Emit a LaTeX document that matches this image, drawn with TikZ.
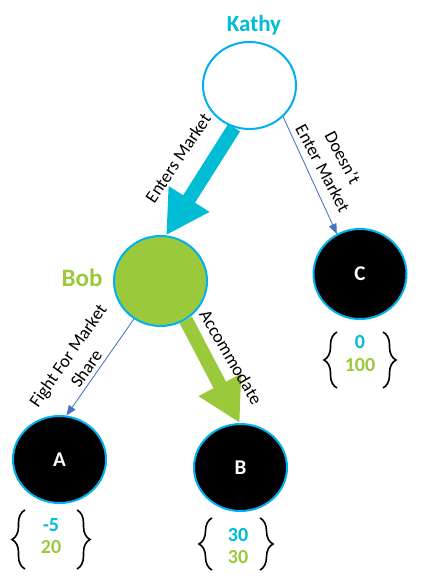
\documentclass[tikz,border=0pt]{standalone}
\usepackage{fontspec}
\setmainfont{Carlito}
\usetikzlibrary{arrows.meta,shapes.geometric,decorations.pathreplacing}
\definecolor{ring}{HTML}{00B0F0}
\definecolor{kcyan}{HTML}{00BCD4}
\definecolor{bgreen}{HTML}{9ACA3C}
\definecolor{thinblue}{HTML}{4472C4}
\tikzset{
  state/.style={ellipse, draw=ring, line width=2pt, minimum width=93pt, minimum height=87pt, inner sep=0pt},
  leaf/.style={state, fill=black, text=white, font=\bfseries\fontsize{21}{24}\selectfont},
  player/.style={font=\bfseries\fontsize{23}{27}\selectfont},
  edgelabel/.style={font=\fontsize{18}{22.5}\selectfont, align=center, inner sep=0pt},
  thinarrow/.style={draw=thinblue, line width=0.8pt, -{Triangle[length=10pt,width=8pt]}, fill=thinblue},
  blockarrow/.style={line width=14pt, -{Triangle[length=43pt,width=45pt]}},
  payoff/.style={font=\bfseries\fontsize{20}{22.5}\selectfont, align=center, inner sep=0pt},
  curly/.style={decorate, decoration={brace, amplitude=13pt}, line width=1.6pt}
}
\begin{document}
\begin{tikzpicture}[x=1pt,y=-1pt]
\useasboundingbox (0,0) rectangle (434,585);
% nodes
\node[state, fill=white] (kathy) at (249.5,85.5) {};
\node[state, fill=bgreen, minimum height=90pt] (bob) at (160.5,281) {};
\node[leaf, minimum height=90pt] (c) at (360,274) {C};
\node[leaf] (a) at (59.5,459.5) {A};
\node[leaf] (b) at (240.5,467.5) {B};
% player labels
\node[player, text=kcyan] (kathylbl) at (254,25) {Kathy};
\node[player, text=bgreen, font=\bfseries\fontsize{25}{29}\selectfont] (boblbl) at (82,278) {Bob};
% connectors
\draw[blockarrow, draw=kcyan, fill=kcyan] (kathy.250) -- (bob.83);
\draw[blockarrow, draw=bgreen, fill=bgreen] (bob.-57) -- (b.91);
\draw[thinarrow] (kathy.-43) -- (c.120);
\draw[thinarrow] (bob.235) -- (a.81);
% edge labels
\node[edgelabel, rotate=56] (l1) at (178,158) {Enters Market};
\node[edgelabel, rotate=-62] (l2) at (333,163) {Doesn't\\Enter Market};
\node[edgelabel, rotate=55] (l3) at (77,362) {Fight For Market\\Share};
\node[edgelabel, rotate=-59.5] (l4) at (231,357) {Accommodate};
% payoffs
\node[payoff] (pa) at (51,536) {\textcolor{kcyan}{-5}\\\textcolor{bgreen}{20}};
\node[payoff] (pb) at (238,546) {\textcolor{kcyan}{30}\\\textcolor{bgreen}{30}};
\node[payoff] (pc) at (360,353.5) {\textcolor{kcyan}{0}\\\textcolor{bgreen}{100}};
% braces
\draw[curly] (25,569) -- (25,510);
\draw[curly] (77,510) -- (77,569);
\draw[curly] (212,570) -- (212,518);
\draw[curly] (260,518) -- (260,570);
\draw[curly] (337,388) -- (337,332);
\draw[curly] (383,332) -- (383,388);
\end{tikzpicture}
\end{document}
